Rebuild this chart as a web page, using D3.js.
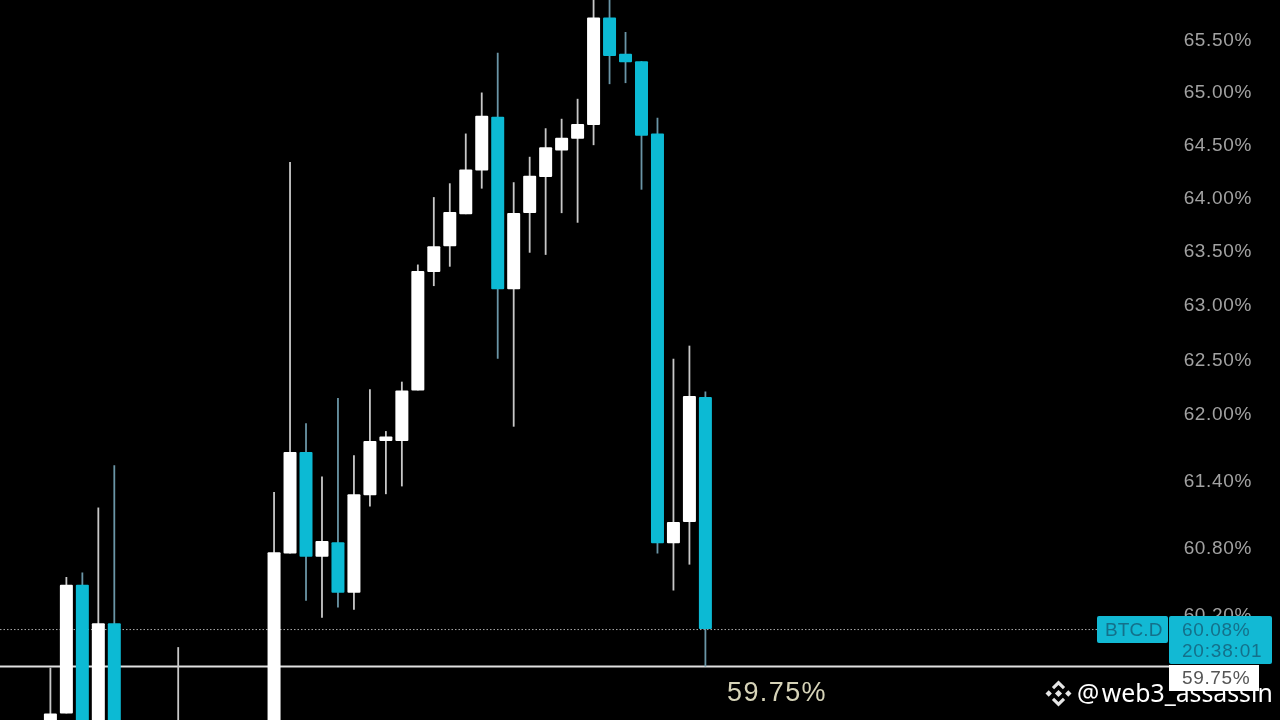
<!DOCTYPE html>
<html lang="en"><head>
<meta charset="utf-8"/>
<title>BTC.D</title>
<script src="https://d3js.org/d3.v7.min.js"></script>
<style>
  html, body { margin: 0; padding: 0; background: #000; overflow: hidden; }
  /* the reference is a soft upscaled screenshot */
  svg { display: block; font-family: "Liberation Sans", Arial, sans-serif; filter: blur(0.4px); }
  .tick-label { font-size: 19px; letter-spacing: 0.65px; fill: #a2a2a2; }
</style>
</head>
<body>
<svg id="chart" width="1280" height="720"></svg>
<script>
// candle slots; the ones between are below the visible area
const slots = [0, 1, 2, 3, 4, 8, 14, 15, 16, 17, 18, 19, 20, 21, 22, 23, 24, 25, 26, 27, 28, 29, 30, 31, 32, 33, 34, 35, 36, 37, 38, 39, 40, 41];
const open  = [59.10, 59.34, 60.47, 59.20, 60.13, 59.00, 59.20, 60.75, 61.66, 60.72, 60.85, 60.40, 61.27, 61.76, 61.76, 62.22, 63.31, 63.55, 63.85, 64.26, 64.77, 63.15, 63.86, 64.20, 64.45, 64.56, 64.69, 65.72, 65.37, 65.30, 64.61, 60.84, 61.03, 62.16];
const close = [59.34, 60.47, 59.10, 60.13, 59.20, 59.10, 60.76, 61.66, 60.72, 60.86, 60.40, 61.28, 61.76, 61.80, 62.22, 63.32, 63.55, 63.87, 64.27, 64.78, 63.15, 63.86, 64.21, 64.48, 64.57, 64.70, 65.72, 65.35, 65.29, 64.59, 60.84, 61.03, 62.17, 60.08];
const high  = [59.74, 60.54, 60.58, 61.16, 61.54, 59.92, 61.30, 64.34, 61.92, 61.44, 62.15, 61.63, 62.23, 61.85, 62.30, 63.38, 64.01, 64.14, 64.61, 65.00, 65.38, 64.15, 64.39, 64.66, 64.75, 64.94, 66.00, 66.00, 65.58, 65.30, 64.76, 62.51, 62.63, 62.21];
const low   = [59.00, 59.34, 59.00, 59.00, 59.00, 58.90, 59.00, 60.75, 60.33, 60.18, 60.27, 60.25, 61.17, 61.28, 61.35, 62.22, 63.18, 63.36, 63.85, 64.09, 62.51, 61.89, 63.49, 63.47, 63.86, 63.77, 64.50, 65.08, 65.09, 64.08, 60.75, 60.42, 60.65, 59.75];
const tickValues = [65.5, 65, 64.5, 64, 63.5, 63, 62.5, 62, 61.4, 60.8, 60.2];
const lastPrice = 60.08;
const markPrice = 59.75;
const symbol = "BTC.D";
const countdown = "20:38:01";
const watermark = "@ web3_assassin";

const upColor = "#ffffff", downColor = "#0cbad4";
const upWick = "#c8c8c8", downWick = "#6a95a6";
const fmt = d => d.toFixed(2) + "%";

const svg = d3.select("#chart");
const x = d3.scaleLinear().domain([0, 41]).range([50.4, 705.4]);
const y = d3.scaleLog().domain([65.5, 59.75]).range([40.3, 666.5]);

const candles = slots.map((s, i) => ({ s, o: open[i], c: close[i], h: high[i], l: low[i] }));

// price axis on the right
const axis = svg.append("g")
  .attr("transform", "translate(1252,-0.8)")
  .call(d3.axisLeft(y).tickValues(tickValues).tickFormat(fmt).tickSize(0).tickPadding(0));
axis.select(".domain").remove();
axis.selectAll("text").attr("class", "tick-label").attr("x", 0).attr("font-family", null).attr("font-size", null);

// reference lines sit behind the candles
svg.append("line")
  .attr("x1", 0).attr("x2", 1097).attr("y1", y(lastPrice) + 0.6).attr("y2", y(lastPrice) + 0.6)
  .attr("stroke", "#a8a8a8").attr("stroke-dasharray", "1.5 2");
svg.append("line")
  .attr("x1", 0).attr("x2", 1169).attr("y1", y(markPrice)).attr("y2", y(markPrice))
  .attr("stroke", "#e0e0e0").attr("stroke-width", 1.8);

// wicks
svg.append("g").selectAll("line").data(candles).join("line")
  .attr("x1", d => x(d.s)).attr("x2", d => x(d.s))
  .attr("y1", d => y(d.h)).attr("y2", d => y(d.l))
  .attr("stroke", d => d.c >= d.o ? upWick : downWick)
  .attr("stroke-width", 1.8);

// bodies
svg.append("g").selectAll("rect").data(candles).join("rect")
  .attr("x", d => x(d.s) - 6.5)
  .attr("width", 13)
  .attr("y", d => y(Math.max(d.o, d.c)))
  .attr("height", d => Math.max(2, Math.abs(y(d.o) - y(d.c))))
  .attr("rx", 1)
  .attr("fill", d => d.c >= d.o ? upColor : downColor);

// price badges
svg.append("rect").attr("x", 1097).attr("y", 616).attr("width", 71).attr("height", 27).attr("rx", 2).attr("fill", "#12b9d4");
svg.append("rect").attr("x", 1169).attr("y", 616).attr("width", 103).attr("height", 48).attr("rx", 2).attr("fill", "#12b9d4");
svg.append("rect").attr("x", 1169).attr("y", 665).attr("width", 90).attr("height", 26).attr("fill", "#ffffff");

const badgeText = (tx, ty, str, fill, sp) => svg.append("text")
  .attr("x", tx).attr("y", ty)
  .attr("font-size", 19).attr("letter-spacing", sp)
  .attr("fill", fill).text(str);
badgeText(1105, 636, symbol, "#14708a", 0.1);
badgeText(1182, 636, fmt(lastPrice), "#14708a", 0.65);
badgeText(1182, 657, countdown, "#14708a", 0.8);
badgeText(1182, 684, fmt(markPrice), "#555555", 0.65);

svg.append("text").attr("x", 727).attr("y", 701)
  .attr("font-size", 27).attr("letter-spacing", 1.4).attr("fill", "#d6d3b8").text(fmt(markPrice));

// watermark with the diamond logo
const logo = svg.append("g").attr("transform", "translate(1058.5,693.5)").attr("fill", "#e6e6e6");
logo.append("path").attr("d", "M0,-3.6L3.6,0L0,3.6L-3.6,0Z");
logo.append("path").attr("d", "M0,-13L6.6,-6.4L4.4,-4.2L0,-8.6L-4.4,-4.2L-6.6,-6.4Z");
logo.append("path").attr("d", "M0,13L6.6,6.4L4.4,4.2L0,8.6L-4.4,4.2L-6.6,6.4Z");
logo.append("path").attr("d", "M-13,0L-9.8,-3.2L-6.6,0L-9.8,3.2Z");
logo.append("path").attr("d", "M13,0L9.8,-3.2L6.6,0L9.8,3.2Z");
svg.append("text").attr("x", 1077).attr("y", 702)
  .attr("font-family", "'Noto Sans', sans-serif").attr("font-size", 24.8).attr("word-spacing", -4)
  .attr("fill", "#ffffff").text(watermark);
</script>
</body></html>
